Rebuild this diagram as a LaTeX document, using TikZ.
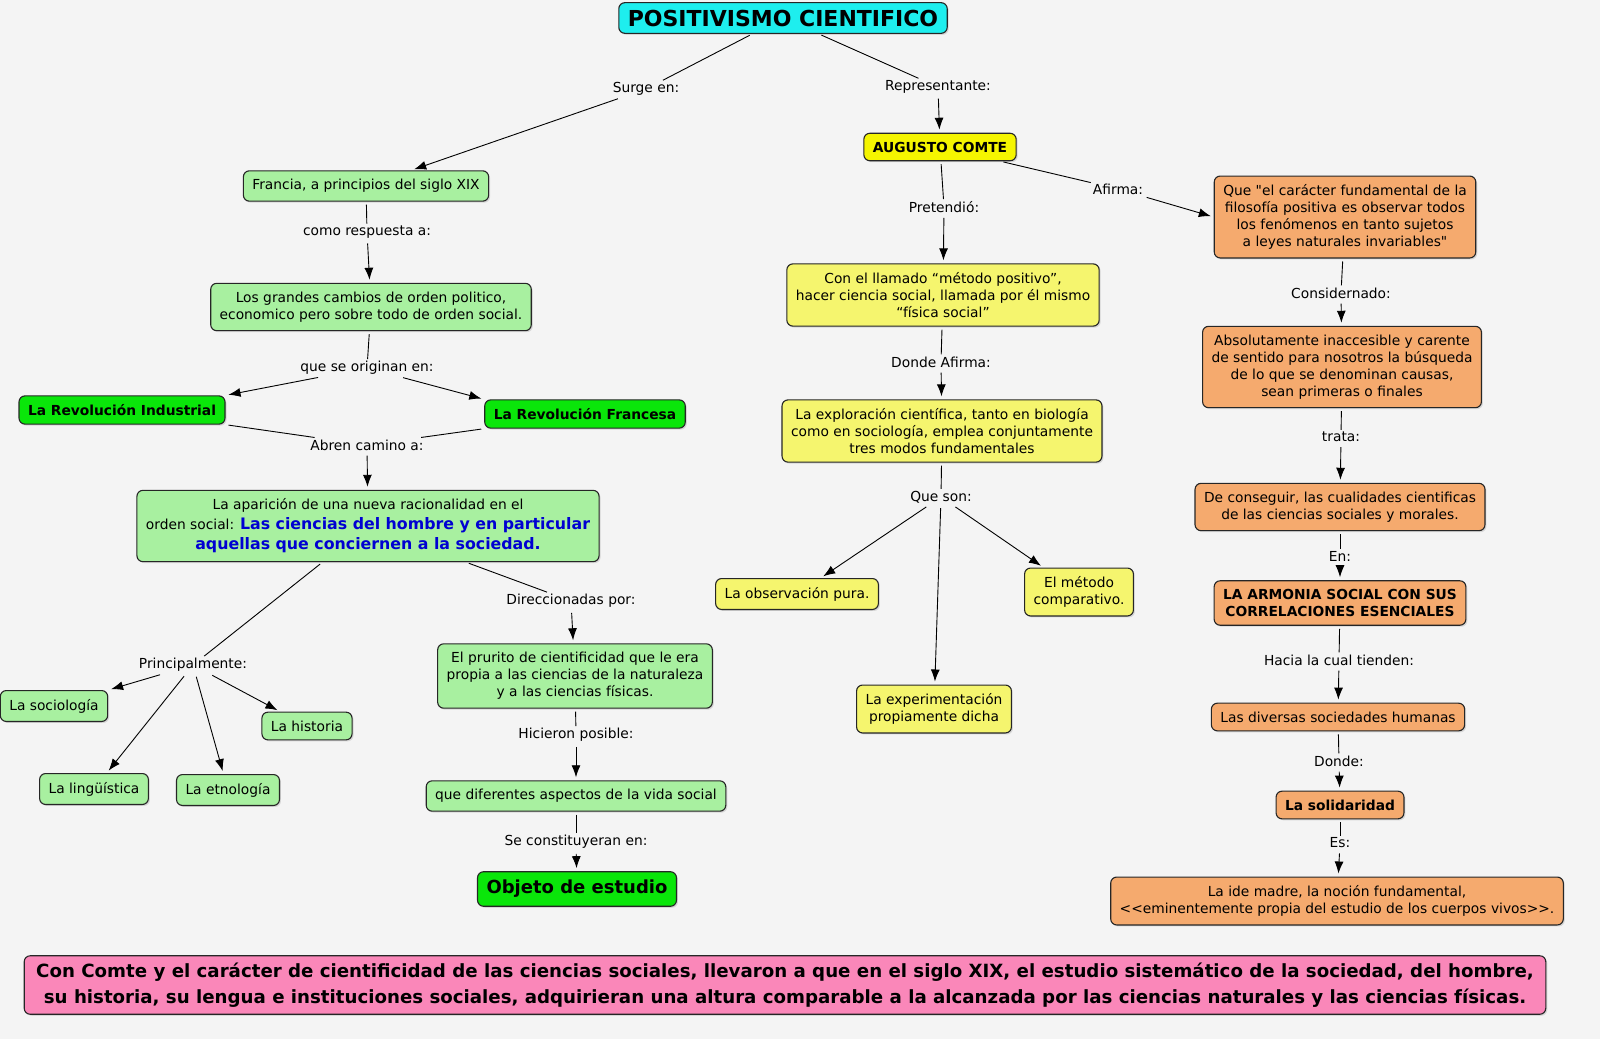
\documentclass[tikz,border=0pt]{standalone}
\usepackage{fontspec}
\newfontfamily\mapfont{DejaVu Sans}
\usetikzlibrary{arrows.meta,shadows}

\definecolor{pagegray}{RGB}{244,244,244}
\definecolor{titlecyan}{RGB}{30,238,238}
\definecolor{palegreen}{RGB}{168,240,160}
\definecolor{brightgreen}{RGB}{10,230,10}
\definecolor{comteyellow}{RGB}{245,245,0}
\definecolor{paleyellow}{RGB}{245,245,110}
\definecolor{paleorange}{RGB}{245,170,110}
\definecolor{conclpink}{RGB}{250,135,185}
\definecolor{bluetext}{RGB}{0,0,210}

\begin{document}
\begin{tikzpicture}[x=1pt, y=-1pt,
    every node/.style={font=\mapfont\fontsize{13.8}{17}\selectfont, align=center},
    boldtext/.style={font=\mapfont\bfseries\fontsize{13.8}{17}\selectfont},
    concept/.style={draw=black!85, line width=1.1pt, rounded corners=6pt, inner xsep=9pt, inner ysep=8.5pt,
      drop shadow={shadow xshift=1.5pt, shadow yshift=-1.5pt, opacity=0.25}},
    greenbox/.style={concept, fill=palegreen},
    brightbox/.style={concept, fill=brightgreen, boldtext},
    yellowbox/.style={concept, fill=paleyellow},
    orangebox/.style={concept, fill=paleorange},
    linking/.style={inner sep=2pt},
    link/.style={line width=0.9pt, shorten <=3pt},
    linkarrow/.style={link, -{Latex[length=12pt,width=9pt]}, shorten >=3pt}]
  % Page
  \fill[pagegray] (0,0) rectangle (1600,1039);
  \useasboundingbox (0,0) rectangle (1600,1039);
  % Title
  \node[concept, fill=titlecyan, inner ysep=7pt, font=\mapfont\bfseries\fontsize{22}{26}\selectfont] (positivismo) at (783,18) {POSITIVISMO CIENTIFICO};
  \node[linking] (surge) at (646,89) {Surge en:};
  \node[linking] (representante) at (938,87) {Representante:};
  % Left branch
  \node[greenbox] (francia) at (366,186) {Francia, a principios del siglo XIX};
  \node[linking] (respuesta) at (367,232) {como respuesta a:};
  \node[greenbox] (cambios) at (371,307) {Los grandes cambios de orden politico,\\economico pero sobre todo de orden social.};
  \node[linking] (originan) at (367,368) {que se originan en:};
  \node[brightbox] (industrial) at (122,410) {La Revolución Industrial};
  \node[brightbox] (francesa) at (585,414) {La Revolución Francesa};
  \node[linking] (abren) at (367,445) {Abren camino a:};
  \node[greenbox, font=\mapfont\fontsize{13.8}{20}\selectfont] (aparicion) at (368,526) {La aparición de una nueva racionalidad en el\\orden social: {\color{bluetext}\bfseries\fontsize{15.8}{20}\selectfont Las ciencias del hombre y en particular}\\{\color{bluetext}\bfseries\fontsize{15.8}{20}\selectfont aquellas que conciernen a la sociedad.}};
  \node[linking] (principalmente) at (193,665) {Principalmente:};
  \node[greenbox] (sociologia) at (54,706) {La sociología};
  \node[greenbox] (historia) at (307,726) {La historia};
  \node[greenbox] (linguistica) at (94,789) {La lingüística};
  \node[greenbox] (etnologia) at (228,790) {La etnología};
  \node[linking] (direccionadas) at (571,601) {Direccionadas por:};
  \node[greenbox] (prurito) at (575,676) {El prurito de cientificidad que le era\\propia a las ciencias de la naturaleza\\y a las ciencias físicas.};
  \node[linking] (hicieron) at (576,735) {Hicieron posible:};
  \node[greenbox] (aspectos) at (576,796) {que diferentes aspectos de la vida social};
  \node[linking] (constituyeran) at (576,842) {Se constituyeran en:};
  \node[brightbox, font=\mapfont\bfseries\fontsize{18}{22}\selectfont] (objeto) at (577,889) {Objeto de estudio};
  % Middle branch
  \node[concept, fill=comteyellow, boldtext] (comte) at (940,147) {AUGUSTO COMTE};
  \node[linking] (pretendio) at (944,207) {Pretendió:};
  \node[linking] (afirma) at (1118,189) {Afirma:};
  \node[yellowbox] (metodo) at (943,295) {Con el llamado “método positivo”,\\hacer ciencia social, llamada por él mismo\\“física social”};
  \node[linking] (dondeafirma) at (941,362) {Donde Afirma:};
  \node[yellowbox] (exploracion) at (942,431) {La exploración científica, tanto en biología\\como en sociología, emplea conjuntamente\\tres modos fundamentales};
  \node[linking] (queson) at (941,497) {Que son:};
  \node[yellowbox] (observacion) at (797,594) {La observación pura.};
  \node[yellowbox] (comparativo) at (1079,592) {El método\\comparativo.};
  \node[yellowbox] (experimentacion) at (934,709) {La experimentación\\propiamente dicha};
  % Right branch
  \node[orangebox] (caracter) at (1345,217) {Que "el carácter fundamental de la\\filosofía positiva es observar todos\\los fenómenos en tanto sujetos\\a leyes naturales invariables"};
  \node[linking] (considerando) at (1341,293) {Considernado:};
  \node[orangebox] (inaccesible) at (1342,367) {Absolutamente inaccesible y carente\\de sentido para nosotros la búsqueda\\de lo que se denominan causas,\\sean primeras o finales};
  \node[linking] (trata) at (1341,437) {trata:};
  \node[orangebox] (cualidades) at (1340,507) {De conseguir, las cualidades cientificas\\de las ciencias sociales y morales.};
  \node[linking] (en) at (1340,556) {En:};
  \node[orangebox, boldtext] (armonia) at (1340,603) {LA ARMONIA SOCIAL CON SUS\\CORRELACIONES ESENCIALES};
  \node[linking] (hacia) at (1339,660) {Hacia la cual tienden:};
  \node[orangebox] (sociedades) at (1338,717) {Las diversas sociedades humanas};
  \node[linking] (donde) at (1339,761) {Donde:};
  \node[orangebox, boldtext] (solidaridad) at (1340,805) {La solidaridad};
  \node[linking] (es) at (1340,843) {Es:};
  \node[orangebox] (idemadre) at (1337,901) {La ide madre, la noción fundamental,\\<<eminentemente propia del estudio de los cuerpos vivos>>.};
  % Conclusion
  \node[concept, fill=conclpink, inner xsep=12pt, inner ysep=7pt, font=\mapfont\bfseries\fontsize{18.2}{26}\selectfont] (conclusion) at (785,985) {Con Comte y el carácter de cientificidad de las ciencias sociales, llevaron a que en el siglo XIX, el estudio sistemático de la sociedad, del hombre,\\su historia, su lengua e instituciones sociales, adquirieran una altura comparable a la alcanzada por las ciencias naturales y las ciencias físicas.};
  % Connectors, title
  \draw[link] (positivismo) -- (surge);
  \draw[linkarrow] (surge) -- (francia);
  \draw[link] (positivismo) -- (representante);
  \draw[linkarrow] (representante) -- (comte);
  % Connectors, left
  \draw[link] (francia) -- (respuesta);
  \draw[linkarrow] (respuesta) -- (cambios);
  \draw[link] (cambios) -- (originan);
  \draw[linkarrow] (originan) -- (industrial.north east);
  \draw[linkarrow] (originan) -- (francesa.north west);
  \draw[link] (industrial.south east) -- (abren);
  \draw[link] (francesa.south west) -- (abren);
  \draw[linkarrow] (abren) -- (aparicion);
  \draw[link] (aparicion) -- (principalmente);
  \draw[linkarrow] (principalmente) -- (sociologia);
  \draw[linkarrow] (principalmente) -- (linguistica);
  \draw[linkarrow] (principalmente) -- (etnologia);
  \draw[linkarrow] (principalmente) -- (historia);
  \draw[link] (aparicion) -- (direccionadas);
  \draw[linkarrow] (direccionadas) -- (prurito);
  \draw[link] (prurito) -- (hicieron);
  \draw[linkarrow] (hicieron) -- (aspectos);
  \draw[link] (aspectos) -- (constituyeran);
  \draw[linkarrow] (constituyeran) -- (objeto);
  % Connectors, middle
  \draw[link] (comte) -- (pretendio);
  \draw[linkarrow] (pretendio) -- (metodo);
  \draw[link] (metodo) -- (dondeafirma);
  \draw[linkarrow] (dondeafirma) -- (exploracion);
  \draw[link] (exploracion) -- (queson);
  \draw[linkarrow] (queson) -- (observacion);
  \draw[linkarrow] (queson) -- (experimentacion);
  \draw[linkarrow] (queson) -- (comparativo);
  % Connectors, right
  \draw[link] (comte) -- (afirma);
  \draw[linkarrow] (afirma) -- (caracter.west);
  \draw[link] (caracter) -- (considerando);
  \draw[linkarrow] (considerando) -- (inaccesible);
  \draw[link] (inaccesible) -- (trata);
  \draw[linkarrow] (trata) -- (cualidades);
  \draw[link] (cualidades) -- (en);
  \draw[linkarrow] (en) -- (armonia);
  \draw[link] (armonia) -- (hacia);
  \draw[linkarrow] (hacia) -- (sociedades);
  \draw[link] (sociedades) -- (donde);
  \draw[linkarrow] (donde) -- (solidaridad);
  \draw[link] (solidaridad) -- (es);
  \draw[linkarrow] (es) -- (idemadre);
\end{tikzpicture}
\end{document}
